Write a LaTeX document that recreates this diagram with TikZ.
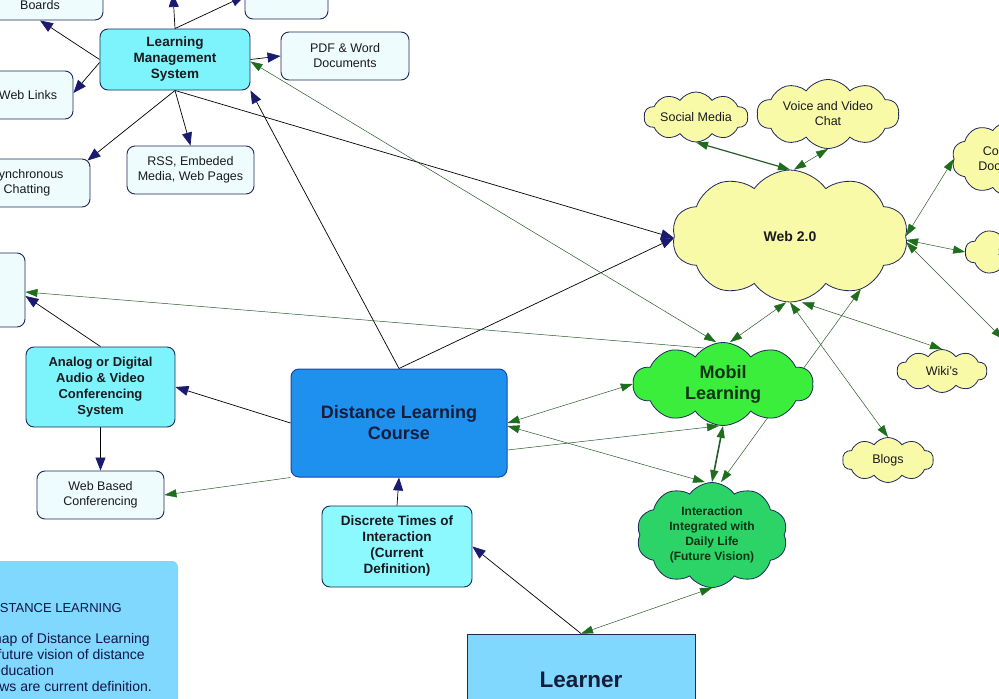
\documentclass[tikz,border=0pt]{standalone}
\usepackage{fontspec}
\setmainfont{Liberation Sans}
\usetikzlibrary{arrows.meta,shapes.symbols}
\definecolor{navyA}{RGB}{26,26,110}
\definecolor{bord}{RGB}{30,40,90}
\definecolor{lightc}{RGB}{238,252,254}
\definecolor{cyanA}{RGB}{125,244,252}
\definecolor{cyanB}{RGB}{140,249,255}
\definecolor{dlcblue}{RGB}{30,144,238}
\definecolor{dlcbord}{RGB}{25,70,170}
\definecolor{dlctxt}{RGB}{20,30,60}
\definecolor{skyA}{RGB}{128,216,255}
\definecolor{yel}{RGB}{248,250,168}
\definecolor{mobg}{RGB}{60,238,60}
\definecolor{intg}{RGB}{44,212,104}
\definecolor{dkg}{RGB}{15,50,20}
\definecolor{grA}{RGB}{30,110,30}
\definecolor{grL}{RGB}{40,90,40}
\definecolor{txt}{RGB}{25,25,30}
\definecolor{noteT}{RGB}{20,20,70}
\pgfdeclarelayer{bg}
\pgfsetlayers{bg,main}
\tikzset{
  lbox/.style={draw=bord, line width=0.9pt, fill=lightc, rounded corners=8pt, align=center,
    font=\fontsize{12.5}{15}\selectfont, text=txt, inner sep=0pt},
  hbox/.style={lbox, fill=cyanA, font=\fontsize{13.5}{16}\selectfont\bfseries},
  cl/.style={cloud, cloud puffs=10, cloud puff arc=110, cloud ignores aspect, draw=bord,
    line width=0.8pt, fill=yel, align=center, inner sep=0pt,
    font=\fontsize{12.5}{15}\selectfont, text=txt},
  nv/.style={draw=black, line width=0.7pt, -{Triangle[length=13pt,width=10pt,color=navyA]}},
  gr/.style={draw=grL, line width=0.5pt,
    {Triangle[length=12pt,width=8pt,color=grA]}-{Triangle[length=12pt,width=8pt,color=grA]}},
  gro/.style={draw=grL, line width=0.5pt, -{Triangle[length=12pt,width=8pt,color=grA]}},
  notetxt/.style={anchor=base east, inner sep=0pt, text=noteT, font=\fontsize{14}{16}\selectfont},
}
\begin{document}
\begin{tikzpicture}[x=1pt,y=-1pt]
\useasboundingbox (0,0) rectangle (999,699);
% boxes
\node[lbox, minimum width=126pt, minimum height=30pt] (boards) at (40,5) {Boards};
\node[lbox, minimum width=83pt, minimum height=46pt] (box2) at (286.5,-4) {};
\node[hbox, minimum width=150pt, minimum height=61pt] (lms) at (175,59.5) {Learning\\Management\\System};
\node[lbox, minimum width=128pt, minimum height=48pt] (pdf) at (345,56) {PDF \& Word\\Documents};
\node[lbox, minimum width=90pt, minimum height=48pt] (wl) at (28,95) {Web Links};
\node[lbox, minimum width=126pt, minimum height=48pt] (syn) at (27,183) {Synchronous\\Chatting};
\node[lbox, minimum width=127pt, minimum height=48pt] (rss) at (190.5,170) {RSS, Embeded\\Media, Web Pages};
\node[lbox, minimum width=125pt, minimum height=74pt] (lb) at (-37.5,290) {};
\node[hbox, font=\fontsize{13}{15.8}\selectfont\bfseries, minimum width=149pt, minimum height=80pt] (an) at (100.5,387) {Analog or Digital\\Audio \& Video\\Conferencing\\System};
\node[lbox, minimum width=127pt, minimum height=48pt] (wb) at (100.5,495) {Web Based\\Conferencing};
\node[draw=dlcbord, line width=1pt, fill=dlcblue, rounded corners=8pt, minimum width=216pt,
  minimum height=108pt, align=center, font=\fontsize{18}{21}\selectfont\bfseries, text=dlctxt] (dlc) at (399,423) {Distance Learning\\Course};
\node[hbox, fill=cyanB, font=\fontsize{13.5}{16}\selectfont\bfseries, minimum width=150pt, minimum height=81pt] (dis) at (397,546.5) {Discrete Times of\\Interaction\\(Current\\Definition)};
\node[draw=bord, fill=skyA, line width=0.9pt, minimum width=228pt, minimum height=92pt,
  font=\fontsize{22.5}{26}\selectfont\bfseries, text=dlctxt] (lrn) at (581,680) {Learner};
% note box
\node[fill=skyA, rounded corners=6pt, minimum width=218pt, minimum height=199pt, inner sep=0pt] (note) at (69,660.5) {};
\node[notetxt, font=\fontsize{13}{16}\selectfont] (t1) at (122,612) {DISTANCE LEARNING};
\node[notetxt] (t2) at (150,643) {Concept map of Distance Learning};
\node[notetxt] (t3) at (145,659) {and future vision of distance};
\node[notetxt] (t4) at (54,675) {education};
\node[notetxt] (t5) at (152,691) {Blue arrows are current definition.};
% clouds
\node[cl, minimum width=104pt, minimum height=50pt] (soc) at (696,117) {Social Media};
\node[cl, minimum width=142pt, minimum height=69pt] (voi) at (828,114) {Voice and Video\\Chat};
\node[cl, font=\fontsize{14}{16}\selectfont\bfseries, minimum width=236pt, minimum height=132pt] (web) at (790,236) {Web 2.0};
\node[cl, minimum width=116pt, minimum height=75pt] (cod) at (1010,159) {Collective\\Documents};
\node[cl, minimum width=100pt, minimum height=51pt] (scl) at (1015,252) {Slides};
\node[cl, minimum width=90pt, minimum height=43pt] (wiki) at (942,371) {Wiki's};
\node[cl, minimum width=91pt, minimum height=45pt] (blog) at (888,460) {Blogs};
\node[cl, fill=mobg, font=\fontsize{18}{21}\selectfont\bfseries, text=dkg, minimum width=180pt, minimum height=83pt] (mob) at (723,384) {Mobil\\Learning};
\node[cl, fill=intg, font=\fontsize{12}{15}\selectfont\bfseries, text=dkg, minimum width=151pt, minimum height=105pt] (int) at (712,535) {Interaction\\Integrated with\\Daily Life\\(Future Vision)};
\coordinate (up1) at (173,-6);
\coordinate (offc) at (1003,339);
% connectors
\begin{pgfonlayer}{bg}
\draw[nv] (lms.west) -- (boards.south);
\draw[nv] ([yshift=-3pt]lms.west) -- ([yshift=2pt]wl.east);
\draw[nv] (lms.north) -- (up1);
\draw[nv] (lms.north) -- (box2.west);
\draw[nv] (lms.east) -- (pdf.west);
\draw[nv] (lms.south) -- ([xshift=-3pt,yshift=-2pt]syn.north east);
\draw[nv] (lms.south) -- (rss.north);
\draw[nv] (lms.south) -- ([yshift=-2pt]web.west);
\draw[nv] (dlc.north) -- (lms.south east);
\draw[nv] (dlc.north) -- ([yshift=-2pt]web.west);
\draw[nv] (dlc.west) -- (an.east);
\draw[nv] (an.north) -- ([yshift=-6pt]lb.east);
\draw[nv] (an.south) -- (wb.north);
\draw[nv] (dis.north) -- (dlc.south);
\draw[nv] (lrn.north) -- (dis.east);
\draw[gr] ([yshift=-2pt]lms.east) -- ([xshift=-7pt]mob.north);
\draw[gr] ([xshift=-4pt]web.south) -- ([xshift=7pt]mob.north);
\draw[gr] (web.south) -- (blog.north);
\draw[gr] ([xshift=12pt]web.south) -- (wiki.north);
\draw[gr] (web.-37) -- ([xshift=9pt]int.north);
\draw[gr, line width=1.6pt] (mob.south) -- (int.north);
\draw[gr] (dlc.east) -- (mob.west);
\draw[gr] ([yshift=-3pt]dlc.east) -- ([xshift=-7pt]int.north);
\draw[gro] ([yshift=-27pt]dlc.east) -- ([xshift=-4pt]mob.south);
\draw[gro] (dlc.south west) -- (wb.east);
\draw[gro] (mob.118) -- ([yshift=-2pt]lb.east);
\draw[gr] (lrn.north) -- (int.south);
\draw[gr, line width=1.2pt] (soc.south) -- (web.north);
\draw[gr] (voi.south) -- ([xshift=4pt]web.north);
\draw[gr] (web.east) -- (cod.west);
\draw[gr] ([yshift=-4pt]web.east) -- (scl.west);
\draw[gr] ([yshift=-6pt]web.east) -- (offc);
\end{pgfonlayer}
\end{tikzpicture}
\end{document}
